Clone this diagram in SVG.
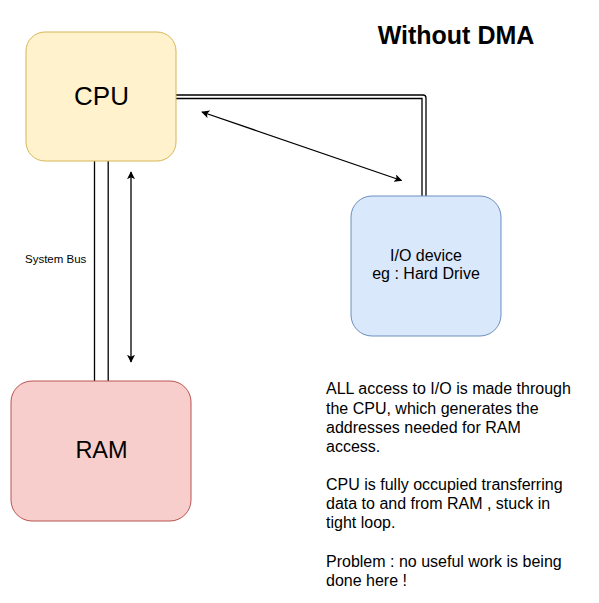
<svg xmlns="http://www.w3.org/2000/svg" width="599" height="603" viewBox="0 0 599 603">
<style>
text{font-family:"Liberation Sans",Arial,sans-serif;fill:#000}
.bus{fill:none;stroke:#000;stroke-width:1.3}
.arr{fill:none;stroke:#000;stroke-width:1.3;marker-start:url(#ah);marker-end:url(#ah)}
.body{font-size:16px}
</style>
<defs>
<marker id="ah" viewBox="0 0 10 10" refX="9" refY="5" markerWidth="8" markerHeight="8" markerUnits="userSpaceOnUse" orient="auto-start-reverse">
<path d="M0,0 L10,5 L0,10 L2.5,5 Z" fill="#000"/>
</marker>
</defs>
<rect width="599" height="603" fill="#fff"/>
<g id="connectors">
<line class="bus" x1="94.5" y1="161" x2="94.5" y2="381"/>
<line class="bus" x1="108.2" y1="161" x2="108.2" y2="381"/>
<path class="bus" d="M176,95 H423 Q426,95 426,98 V196"/>
<path class="bus" d="M176,98.5 H422 V196"/>
<line class="arr" x1="131" y1="172" x2="131" y2="362"/>
<line class="arr" x1="202" y1="112" x2="401.5" y2="180.5"/>
</g>
<g id="cpu">
<rect x="26" y="32" width="150" height="129" rx="19" fill="#fff2cc" stroke="#d6b656"/>
<text x="101.5" y="105" font-size="26" text-anchor="middle">CPU</text>
</g>
<g id="ram">
<rect x="11" y="381" width="180" height="140" rx="21" fill="#f8cecc" stroke="#b85450"/>
<text x="101.5" y="458.3" font-size="23.5" text-anchor="middle">RAM</text>
</g>
<g id="io">
<rect x="351" y="196" width="150" height="140" rx="21" fill="#dae8fc" stroke="#6c8ebf"/>
<text x="426" y="261" font-size="16" text-anchor="middle">I/O device</text>
<text x="426" y="279.3" font-size="16" text-anchor="middle">eg : Hard Drive</text>
</g>
<g id="labels">
<text x="456" y="43.5" font-size="25" font-weight="bold" text-anchor="middle">Without DMA</text>
<text x="25" y="263.3" font-size="11.5">System Bus</text>
<text class="body" x="326" y="394">ALL access to I/O is made through</text>
<text class="body" x="326" y="413.5">the CPU, which generates the</text>
<text class="body" x="326" y="433">addresses needed for RAM</text>
<text class="body" x="326" y="452">access.</text>
<text class="body" x="326" y="490">CPU is fully occupied transferring</text>
<text class="body" x="326" y="509">data to and from RAM , stuck in</text>
<text class="body" x="326" y="528">tight loop.</text>
<text class="body" x="326" y="567">Problem : no useful work is being</text>
<text class="body" x="326" y="585.5">done here !</text>
</g>
</svg>
